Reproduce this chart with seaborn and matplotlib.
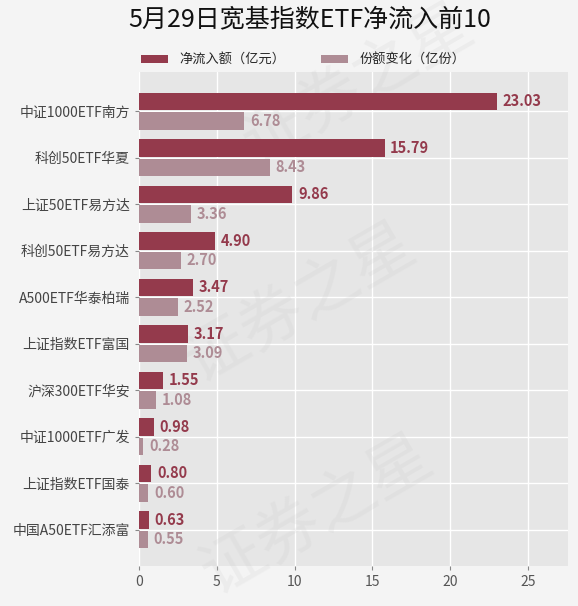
import pandas as pd
import seaborn as sns
import matplotlib.pyplot as plt

# ============================================================
# DATA
# ============================================================
funds = ["中证1000ETF南方", "科创50ETF华夏", "上证50ETF易方达", "科创50ETF易方达",
         "A500ETF华泰柏瑞", "上证指数ETF富国", "沪深300ETF华安", "中证1000ETF广发",
         "上证指数ETF国泰", "中国A50ETF汇添富"]
net_inflow = [23.03, 15.79, 9.86, 4.90, 3.47, 3.17, 1.55, 0.98, 0.80, 0.63]
share_change = [6.78, 8.43, 3.36, 2.70, 2.52, 3.09, 1.08, 0.28, 0.60, 0.55]
series_names = ["净流入额（亿元）", "份额变化（亿份）"]
colors = ["#943a4c", "#ae8c95"]

df = pd.DataFrame({
    "fund": funds * 2,
    "value": net_inflow + share_change,
    "series": [series_names[0]] * len(funds) + [series_names[1]] * len(funds),
})

# ============================================================
# STYLE
# ============================================================
sns.set_theme(style="darkgrid")
plt.rcParams["font.family"] = ["Noto Sans CJK SC", "DejaVu Sans"]

fig = plt.figure(figsize=(5.78, 6.06), dpi=100, facecolor="#f4f4f4")
ax = fig.add_axes([0.2405, 0.066, 0.7425, 0.815])
ax.set_facecolor("#e6e6e6")

# faint watermark behind the bars
for (x, y) in [(0.62, 0.86), (0.52, 0.5), (0.55, 0.15)]:
    ax.text(x, y, "证券之星", fontsize=46, color="#c8c8c8", alpha=0.18,
            rotation=30, ha="center", va="center", zorder=1,
            transform=fig.transFigure)

sns.barplot(data=df, x="value", y="fund", hue="series", palette=colors,
            orient="h", width=0.84, gap=0.1, saturation=1, linewidth=0,
            ax=ax, zorder=3)

for cont, col in zip(ax.containers, colors):
    ax.bar_label(cont, fmt="%.2f", padding=4, color=col, fontsize=10.5,
                 fontweight="bold")

ax.set_xlim(0, 27.6)
ax.set_ylim(9.78, -0.84)
ax.set_xticks([0, 5, 10, 15, 20, 25])
ax.set_xlabel("")
ax.set_ylabel("")
ax.grid(True, color="white", linewidth=1)
ax.tick_params(axis="both", labelsize=10, length=3, width=0.8,
               left=True, bottom=True)
ax.tick_params(axis="x", colors="#888888", labelcolor="#555555")
ax.tick_params(axis="y", colors="#888888", labelcolor="#444444")
for s in ax.spines.values():
    s.set_visible(False)

ax.legend(loc="center", bbox_to_anchor=(0.383, 1.024), ncol=2, frameon=False,
          fontsize=9.5, handlelength=2.0, handleheight=0.6, handletextpad=0.9,
          columnspacing=2.7, borderaxespad=0)

fig.suptitle("5月29日宽基指数ETF净流入前10", fontsize=18, y=0.99, x=0.535,
             color="#111111")

plt.savefig("out.png", dpi=100, facecolor=fig.get_facecolor())
